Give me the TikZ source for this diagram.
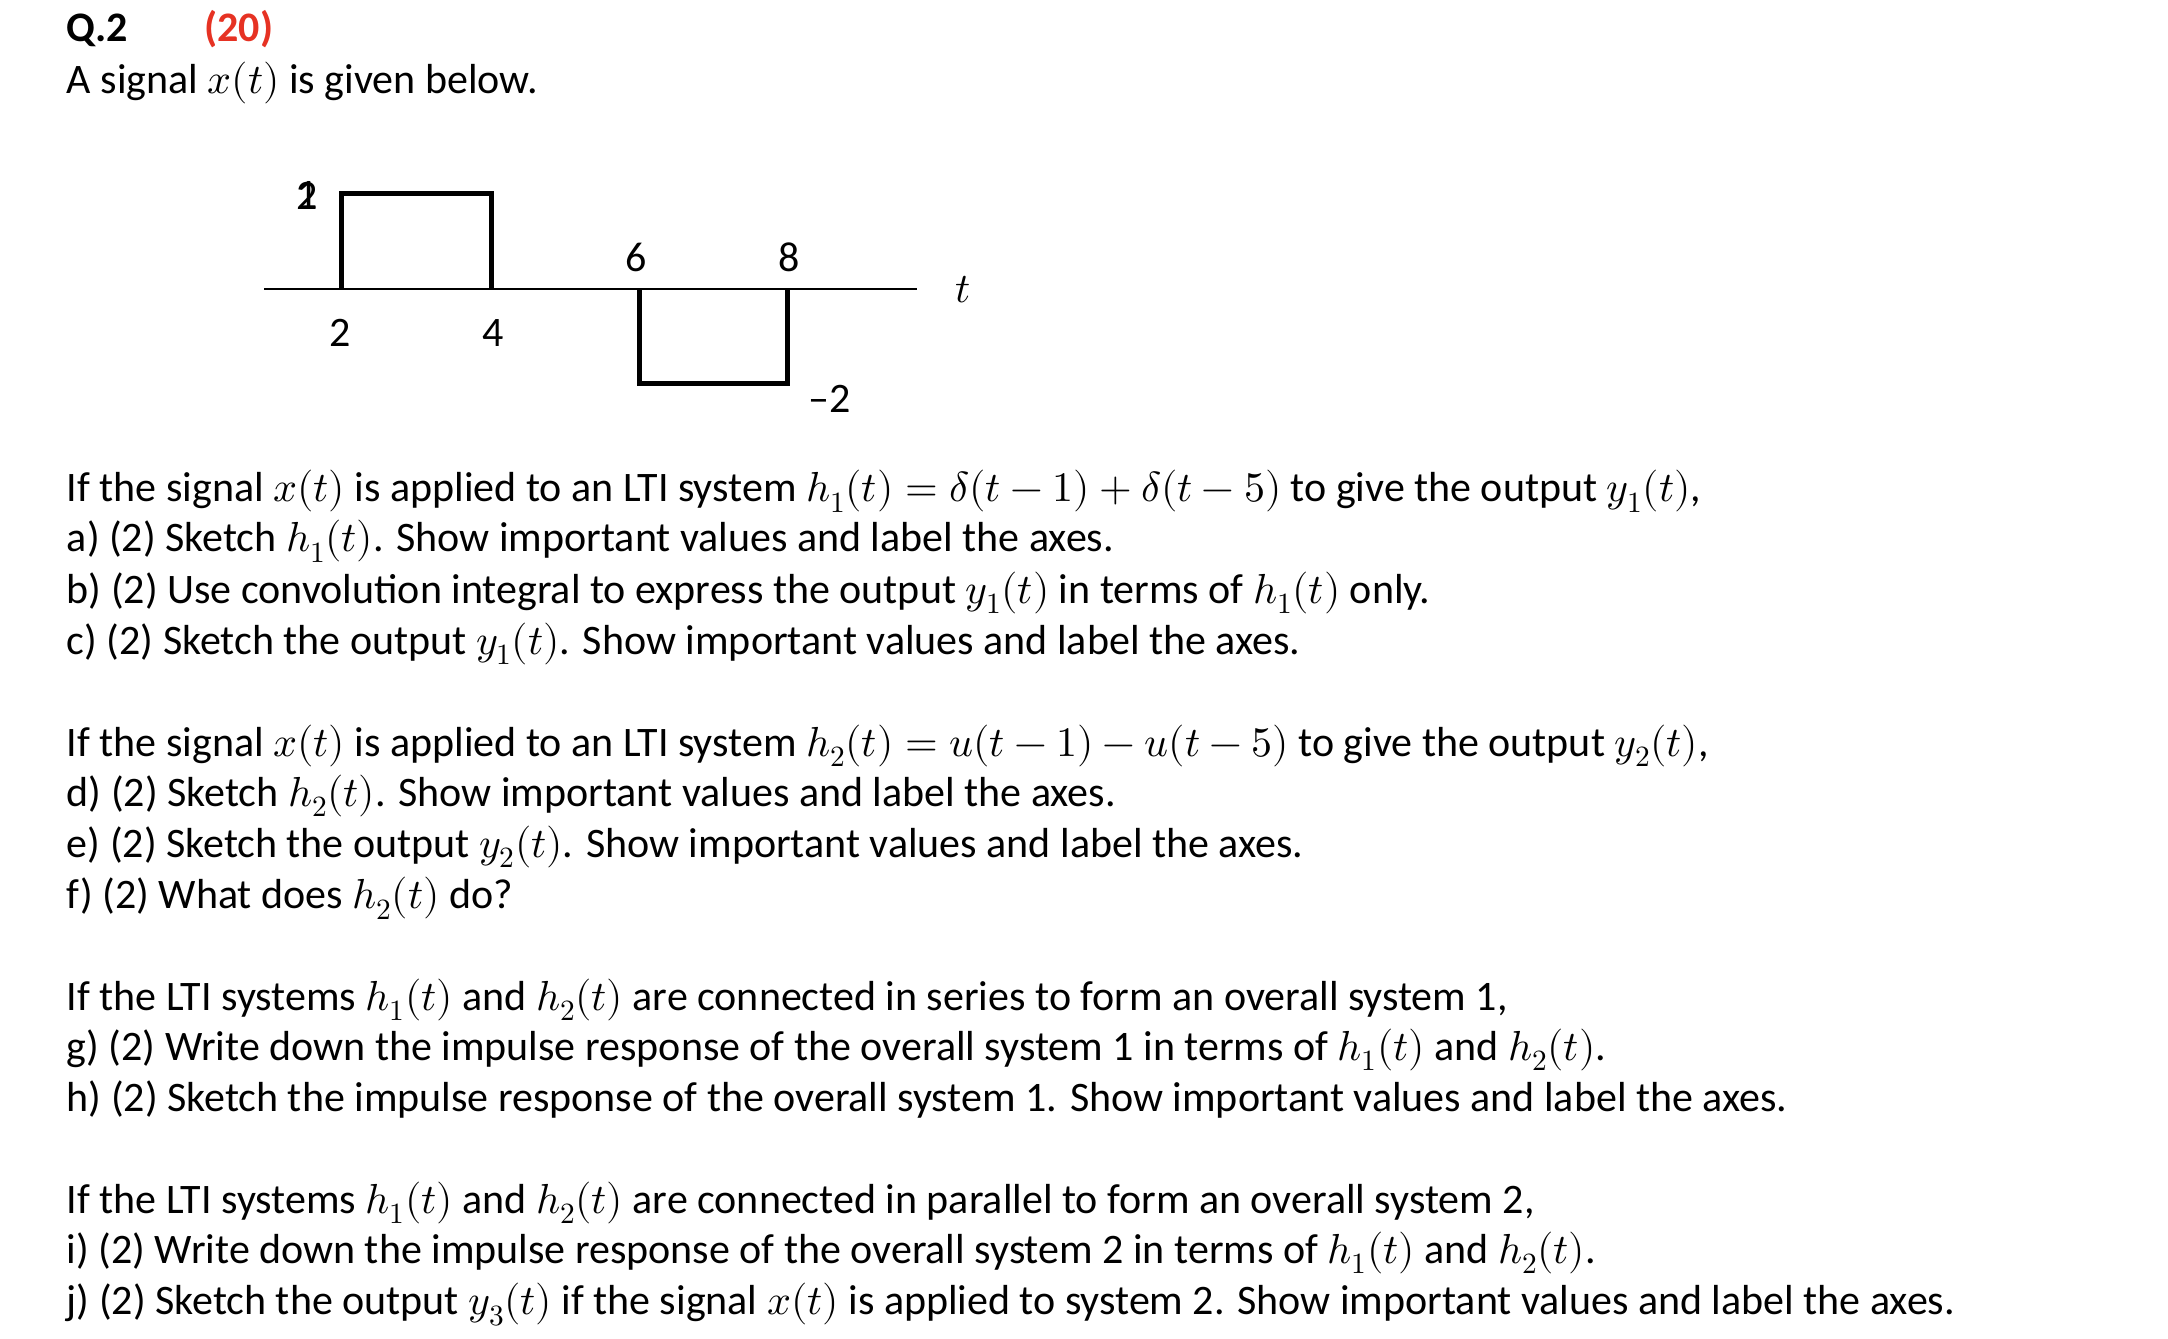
\documentclass[tikz,border=0pt]{standalone}
\usepackage{unicode-math}
\setmainfont{Carlito}
\setmathfont{Latin Modern Math}
\definecolor{qred}{RGB}{230,50,35}
\begin{document}
\begin{tikzpicture}[x=1.39pt,y=-1.39pt,
  txt/.style={anchor=base west,inner sep=0pt,font=\fontsize{42}{50}\selectfont},
  lab/.style={anchor=base,inner sep=0pt,font=\fontsize{42}{50}\selectfont},
  sig/.style={line width=5pt}]
\useasboundingbox (0,0) rectangle (1560,963);
\node[txt,font=\fontsize{42}{50}\selectfont\bfseries] (q) at (48,30) {Q.2};
\node[txt,text=qred,font=\fontsize{42}{50}\selectfont\bfseries] (pts) at (147,30) {(20)};
\node[txt] (l0) at (48,67) {A signal $x(t)$ is given below.};
% graph
\coordinate (a0) at (190,208); \coordinate (a1) at (660,208);
\draw[line width=1.5pt] (a0) -- (a1);
\draw[sig] (246,208) -- (246,139) -- (354,139) -- (354,208);
\draw[sig] (460,208) -- (460,276) -- (567,276) -- (567,208);
\node[lab] (t) at (693,218) {$t$};
\node[lab] (n2) at (245,249) {2};
\node[lab] (n4) at (355,249) {4};
\node[lab] (n6) at (458,195) {6};
\node[lab] (n8) at (568,195) {8};
\node[lab] (nm2) at (597,297) {–2};
\node[lab] (one) at (221,150) {1};
\node[lab] (two) at (221,151) {2};
\node[txt] (l1) at (48,361) {If the signal $x(t)$ is applied to an LTI system $h_1(t)=\delta(t-1)+\delta(t-5)$ to give the output $y_1(t)$,};
\node[txt] (l2) at (48,397) {a) (2) Sketch $h_1(t)$. Show important values and label the axes.};
\node[txt] (l3) at (48,434) {b) (2) Use convolution integral to express the output $y_1(t)$ in terms of $h_1(t)$ only.};
\node[txt] (l4) at (48,471) {c) (2) Sketch the output $y_1(t)$. Show important values and label the axes.};
\node[txt] (l5) at (48,544) {If the signal $x(t)$ is applied to an LTI system $h_2(t)=u(t-1)-u(t-5)$ to give the output $y_2(t)$,};
\node[txt] (l6) at (48,580) {d) (2) Sketch $h_2(t)$. Show important values and label the axes.};
\node[txt] (l7) at (48,617) {e) (2) Sketch the output $y_2(t)$. Show important values and label the axes.};
\node[txt] (l8) at (48,654) {f) (2) What does $h_2(t)$ do?};
\node[txt] (l9) at (48,727) {If the LTI systems $h_1(t)$ and $h_2(t)$ are connected in series to form an overall system 1,};
\node[txt] (l10) at (48,763) {g) (2) Write down the impulse response of the overall system 1 in terms of $h_1(t)$ and $h_2(t)$.};
\node[txt] (l11) at (48,800) {h) (2) Sketch the impulse response of the overall system 1. Show important values and label the axes.};
\node[txt] (l12) at (48,873) {If the LTI systems $h_1(t)$ and $h_2(t)$ are connected in parallel to form an overall system 2,};
\node[txt] (l13) at (48,909) {i) (2) Write down the impulse response of the overall system 2 in terms of $h_1(t)$ and $h_2(t)$.};
\node[txt] (l14) at (48,946) {j) (2) Sketch the output $y_3(t)$ if the signal $x(t)$ is applied to system 2. Show important values and label the axes.};
\end{tikzpicture}
\end{document}
